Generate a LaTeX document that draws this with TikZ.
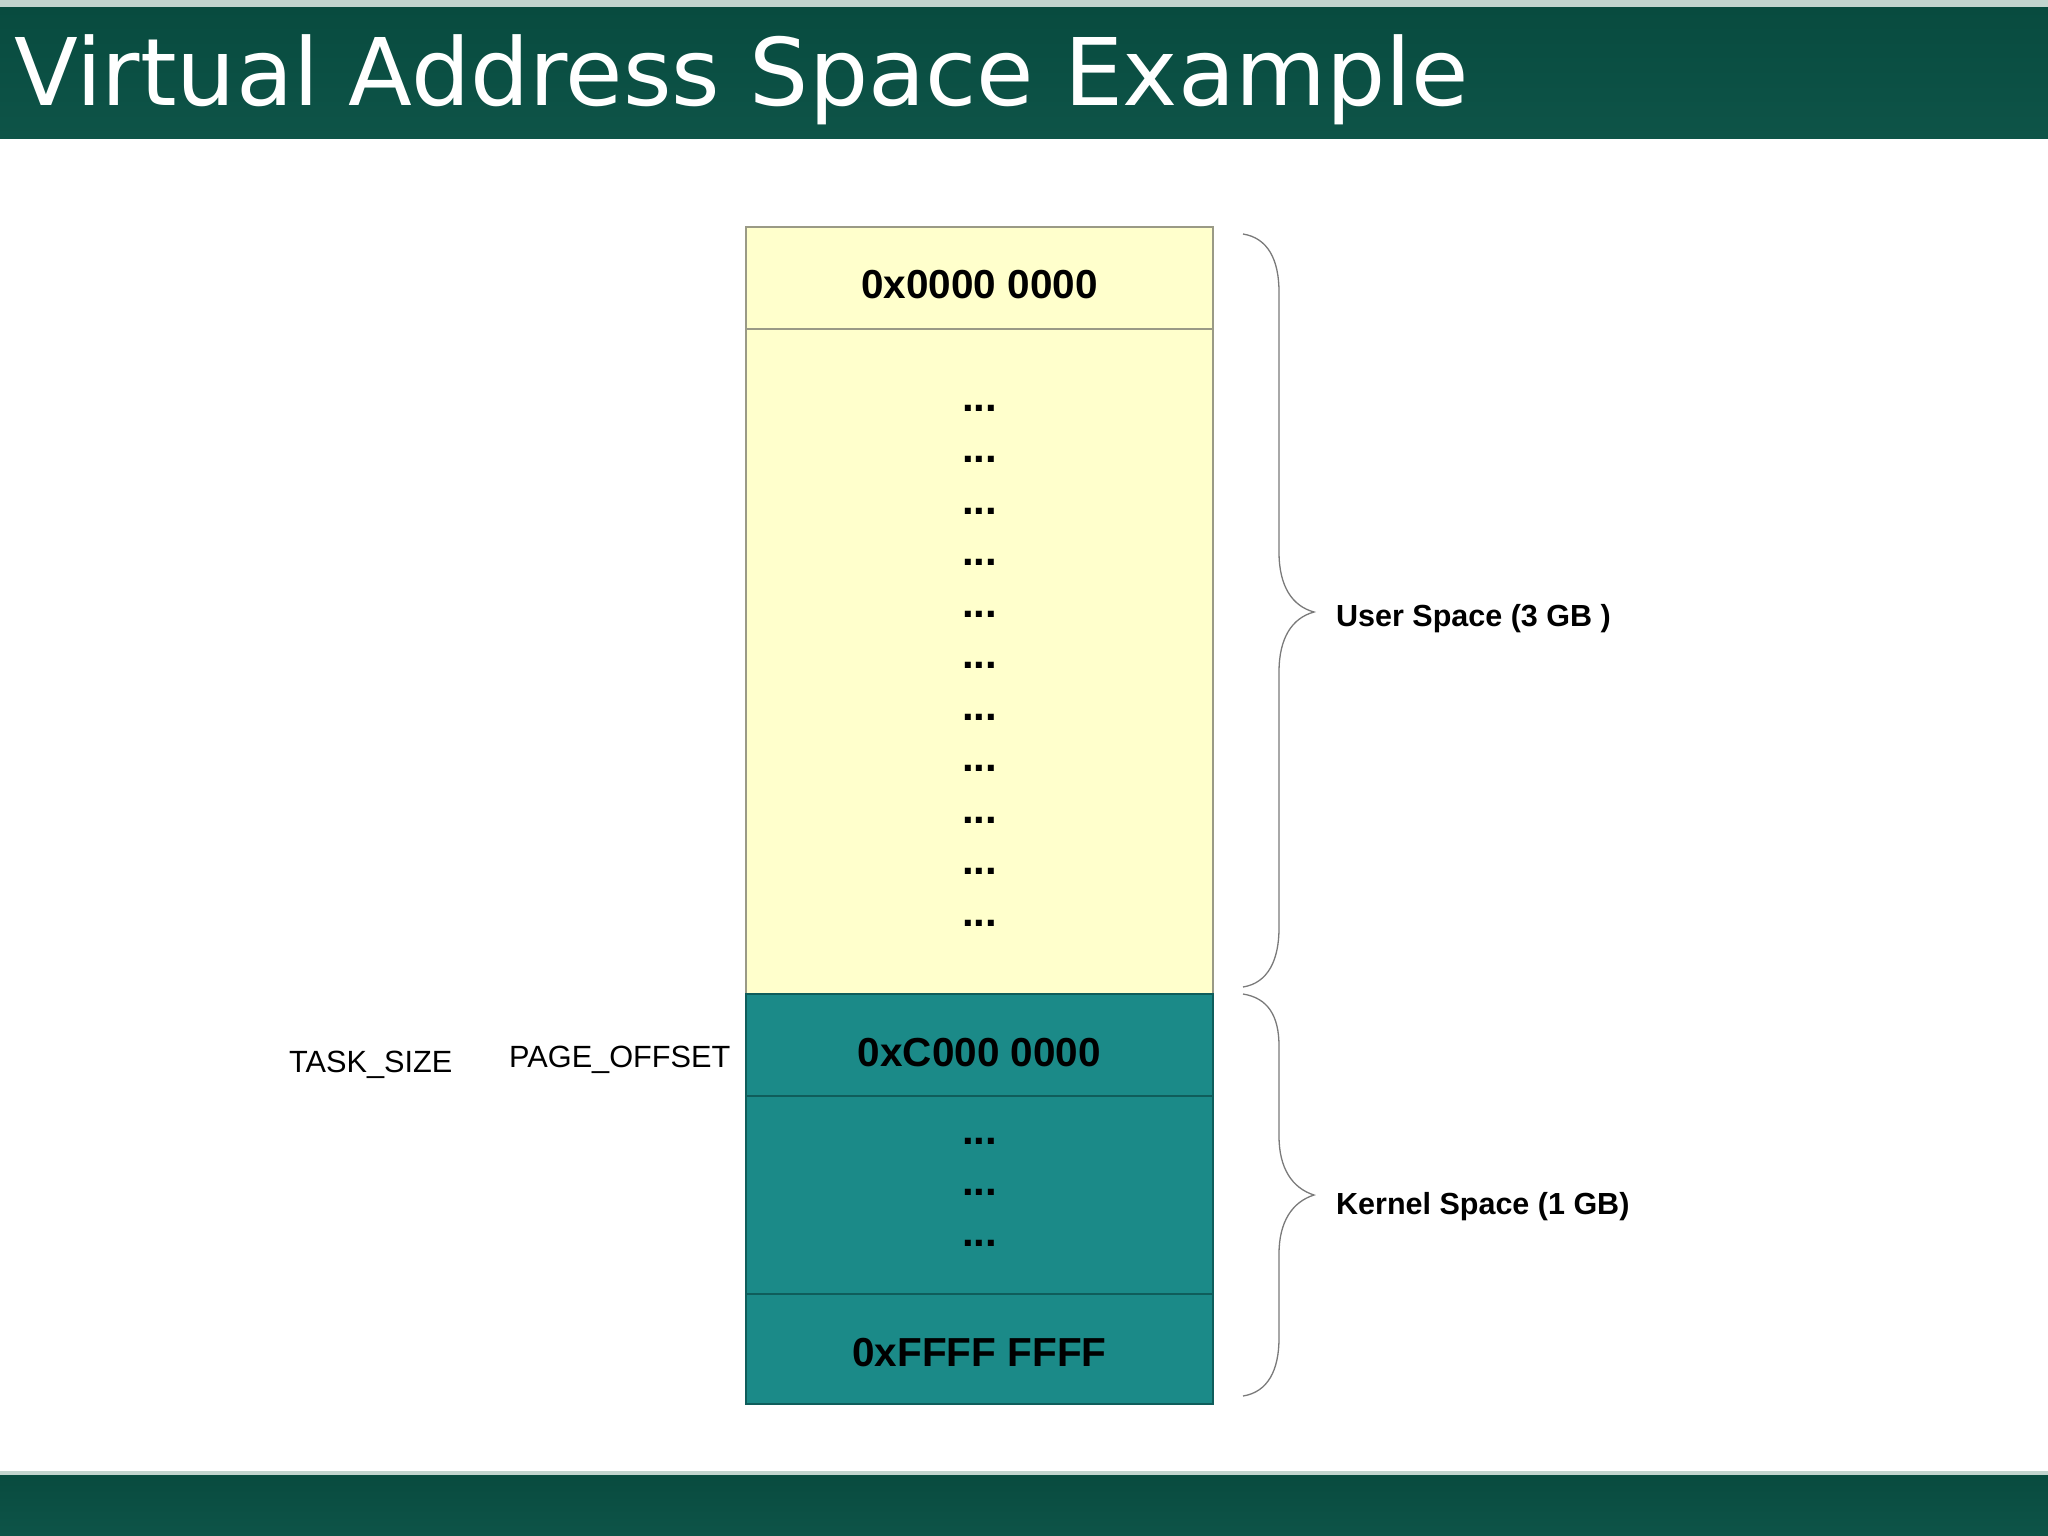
\documentclass[tikz,border=0pt]{standalone}
\usepackage{fontspec}
\setmainfont{Liberation Sans}
\newfontfamily\titlefont{DejaVu Sans}
\definecolor{bartop}{HTML}{084B3F}
\definecolor{barbot}{HTML}{0E5448}
\definecolor{barlight}{HTML}{C2D4CE}
\definecolor{usery}{HTML}{FFFFCC}
\definecolor{userline}{HTML}{9A9A86}
\definecolor{kernteal}{HTML}{1B8A88}
\definecolor{kernline}{HTML}{0F5D5B}
\definecolor{braceg}{HTML}{7A7A7A}

\begin{document}
\begin{tikzpicture}[x=1pt, y=-1pt,
    cell/.style={draw, line width=1.2pt, minimum width=467pt, inner sep=0pt},
    usercell/.style={cell, fill=usery, draw=userline},
    kerncell/.style={cell, fill=kernteal, draw=kernline},
    addr/.style={font=\fontsize{40.5}{48}\selectfont\bfseries, inner sep=0pt},
    dotrow/.style={font=\fontsize{42}{48}\selectfont\bfseries, inner sep=0pt},
    side/.style={font=\fontsize{30.7}{36}\selectfont, anchor=base west, inner sep=0pt},
    sidebold/.style={side, font=\fontsize{30.5}{36}\selectfont\bfseries},
    brace/.style={draw=braceg, line width=1.3pt}]
    \useasboundingbox (0,0) rectangle (2048,1535);

    % title and footer bars
    \fill[barlight] (0,0) rectangle (2048,7);
    \shade[top color=bartop, bottom color=barbot] (0,7) rectangle (2048,138);
    \node[anchor=base west, inner sep=0pt, text=white,
        font=\titlefont\fontsize{93.3}{110}\selectfont] (title) at (14,105) {Virtual Address Space Example};
    \fill[barlight] (0,1471) rectangle (2048,1475);
    \shade[top color=bartop, bottom color=barbot] (0,1475) rectangle (2048,1535);

    % address space cells
    \node[usercell, minimum height=102pt] (u0) at (979.5,278) {};
    \node[usercell, minimum height=665pt] (u1) at (979.5,661.5) {};
    \node[kerncell, minimum height=102pt] (k0) at (979.5,1045) {};
    \node[kerncell, minimum height=198pt] (k1) at (979.5,1195) {};
    \node[kerncell, minimum height=110pt] (k2) at (979.5,1349) {};

    \node[addr] (a0) at (979.5,285) {0x0000 0000};
    \node[addr] (a1) at (979.5,1053) {0xC000 0000};
    \node[addr] (a2) at (979.5,1352.5) {0xFFFF FFFF};

    \foreach \i in {0,...,10}
        \node[dotrow] (ud\i) at (979.5,{408+51.5*\i}) {...};
    \foreach \i in {0,1,2}
        \node[dotrow] (kd\i) at (979.5,{1141.5+51*\i}) {...};

    % labels on the left
    \node[side] (task) at (289,1072) {TASK\_SIZE};
    \node[side] (pageoff) at (509,1067) {PAGE\_OFFSET};

    % braces
    \coordinate (ubt) at (1243,234);
    \coordinate (utip) at (1314,612);
    \coordinate (ubb) at (1243,987);
    \coordinate (kbt) at (1243,994);
    \coordinate (ktip) at (1314,1195);
    \coordinate (kbb) at (1243,1396);

    \draw[brace] (ubt) .. controls (1268,238) and (1279,260) .. (1279,292)
        -- (1279,552) .. controls (1279,586) and (1292,606) .. (utip)
        .. controls (1292,618) and (1279,638) .. (1279,672)
        -- (1279,928) .. controls (1279,960) and (1268,983) .. (ubb);
    \draw[brace] (kbt) .. controls (1268,998) and (1279,1016) .. (1279,1046)
        -- (1279,1136) .. controls (1279,1168) and (1292,1188) .. (ktip)
        .. controls (1292,1202) and (1279,1222) .. (1279,1254)
        -- (1279,1338) .. controls (1279,1370) and (1268,1392) .. (kbb);

    \node[sidebold] (user) at (1336,626) {User Space (3 GB )};
    \node[sidebold] (kernel) at (1336,1214) {Kernel Space (1 GB)};
\end{tikzpicture}
\end{document}
